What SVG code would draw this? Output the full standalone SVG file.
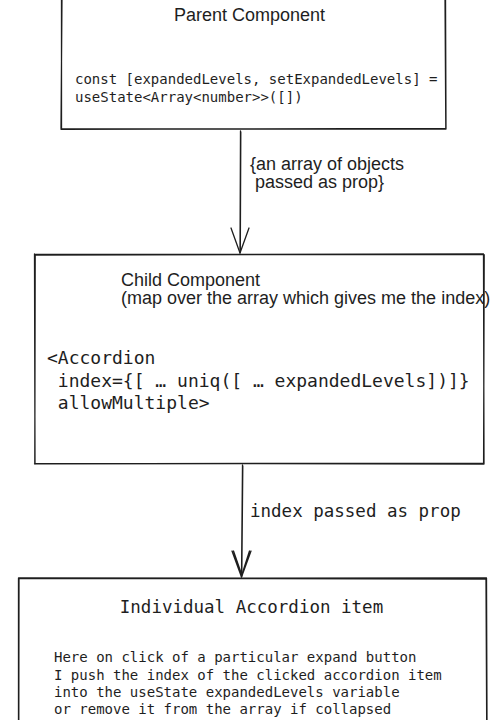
<svg xmlns="http://www.w3.org/2000/svg" width="497" height="720" viewBox="0 0 497 720">
<style>
.box{fill:none;stroke:#1e1e1e;stroke-width:1.3;stroke-linecap:round}
.con{fill:none;stroke:#1e1e1e;stroke-width:1.3;stroke-linecap:round;stroke-linejoin:round}
.sans{font-family:"Liberation Sans",Arial,sans-serif;font-size:18px;fill:#1e1e1e}
.mono{font-family:"DejaVu Sans Mono","Liberation Mono",monospace;fill:#1e1e1e}
</style>
<rect width="497" height="720" fill="#ffffff"/>
<g id="parent">
<path class="box" d="M61.5 -6 L61.5 129 M62 -5 L61 128.5 M61 129.3 L446 128.5 M62 128.8 L445.5 129.2 M445.5 -5 L446 129 M445 -6 L445.8 128"/>
<text class="sans" x="249.5" y="21" text-anchor="middle">Parent Component</text>
<text class="mono" font-size="14"><tspan x="75" y="84">const [expandedLevels, setExpandedLevels] =</tspan><tspan x="75" y="102">useState&lt;Array&lt;number&gt;&gt;([])</tspan></text>
</g>
<g id="child">
<path class="box" d="M34.5 254.5 L484 254.5 M35 255 L483.5 254 M34.5 254 L35 464 M35.2 255 L34.8 463.5 M34.5 463.8 L484 463.2 M35 463.4 L483.5 464 M483.5 254 L484 464 M484.2 255 L483.6 463"/>
<text class="sans"><tspan x="121" y="286">Child Component</tspan><tspan x="121" y="304">(map over the array which gives me the index)</tspan></text>
<text class="mono" font-size="18" xml:space="preserve"><tspan x="47" y="364">&lt;Accordion</tspan><tspan x="47" y="387"> index={[ … uniq([ … expandedLevels])]}</tspan><tspan x="47" y="409"> allowMultiple&gt;</tspan></text>
</g>
<g id="item">
<path class="box" d="M18.5 578.5 L486.5 578 M19 578 L486 579 M18.5 578 L18.5 725 M19 579 L18.8 725 M486.5 578 L487 725 M486 579 L486.7 725"/>
<text class="mono" font-size="17.5" x="251.5" y="613" text-anchor="middle">Individual Accordion item</text>
<text class="mono" font-size="14"><tspan x="54" y="662">Here on click of a particular expand button</tspan><tspan x="54" y="680">I push the index of the clicked accordion item</tspan><tspan x="54" y="697">into the useState expandedLevels variable</tspan><tspan x="54" y="714">or remove it from the array if collapsed</tspan></text>
</g>
<g id="connectors">
<path class="con" d="M240.5 131 L240 253 M240.8 132 L240.3 252"/>
<path class="con" d="M231 228 L240 253 L249 228"/>
<text class="sans" xml:space="preserve"><tspan x="250" y="170">{an array of objects</tspan><tspan x="250" y="188"> passed as prop}</tspan></text>
<path class="con" d="M242.5 465 L241.5 577 M242.8 466 L241.8 576"/>
<path class="con" d="M232 551 L241.5 577 L251 551 M233.5 551 L241.8 575 L249.5 551"/>
<text class="mono" font-size="17.5" x="250" y="517">index passed as prop</text>
</g>
</svg>
